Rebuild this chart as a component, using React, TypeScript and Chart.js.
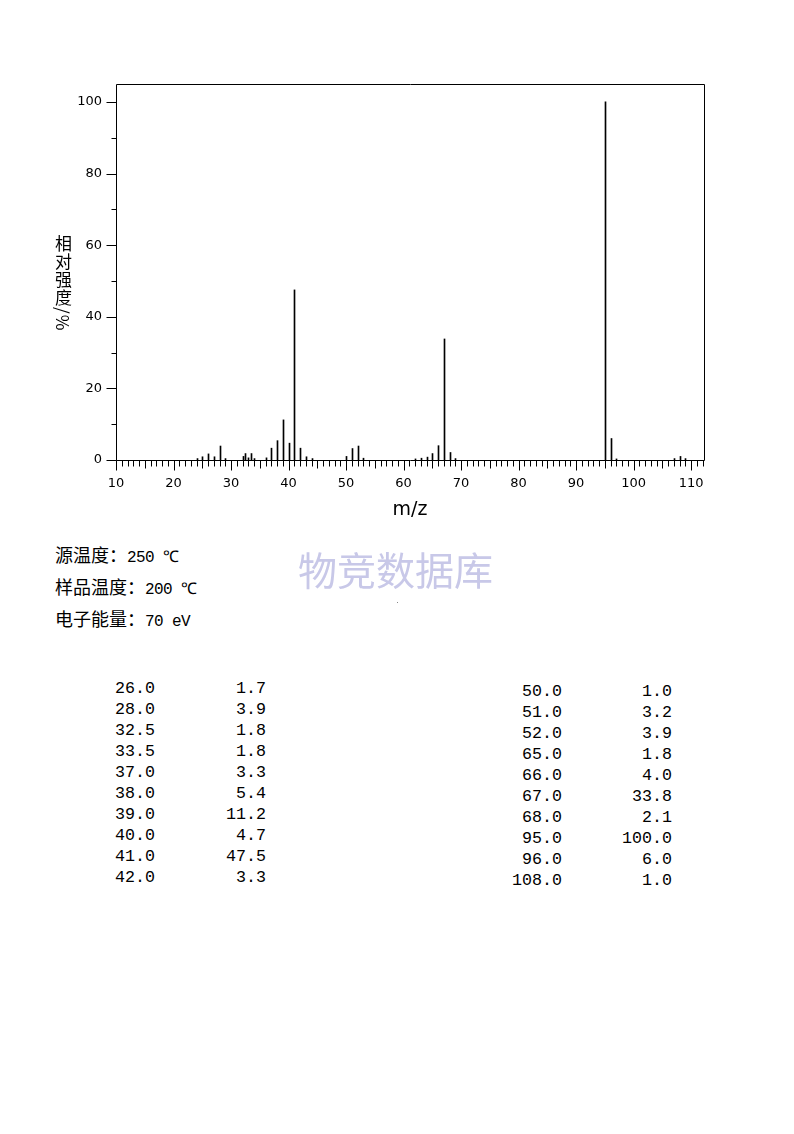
import React, { useEffect, useRef } from 'react';
import { Chart, registerables } from 'chart.js';

Chart.register(...registerables);

// m/z values of the peaks and their relative intensities (%)
const MZ = [24, 25, 26, 27, 28, 29, 32, 32.5, 33, 33.5, 34, 36, 37, 38, 39, 40, 41, 42, 43, 44, 50, 51, 52, 53, 62, 63, 64, 65, 66, 67, 68, 69, 95, 96, 97, 107, 108, 109];
const INTENSITY = [0.4, 0.9, 1.7, 0.9, 3.9, 0.4, 1.0, 1.8, 0.6, 1.8, 0.4, 0.6, 3.3, 5.4, 11.2, 4.7, 47.5, 3.3, 0.9, 0.4, 1.0, 3.2, 3.9, 0.5, 0.3, 0.5, 0.8, 1.8, 4.0, 33.8, 2.1, 0.4, 100, 6.0, 0.3, 0.4, 1.0, 0.4];

const X_TICKS = [10, 20, 30, 40, 50, 60, 70, 80, 90, 100, 110];
const Y_TICKS = [0, 20, 40, 60, 80, 100];
const X_MIN = 10;
const X_MAX = 112.25;
const Y_MIN = 0;
const Y_MAX = 105;

const X_TITLE = 'm/z';
const Y_TITLE = '相对强度/%';

const INFO_LABELS = ['源温度：', '样品温度：', '电子能量：'];
const INFO_VALUES = ['250 ℃', '200 ℃', '70 eV'];
const WATERMARK = '物竞数据库';

const TABLE_LEFT_MZ = ['26.0', '28.0', '32.5', '33.5', '37.0', '38.0', '39.0', '40.0', '41.0', '42.0'];
const TABLE_LEFT_INT = ['1.7', '3.9', '1.8', '1.8', '3.3', '5.4', '11.2', '4.7', '47.5', '3.3'];
const TABLE_RIGHT_MZ = ['50.0', '51.0', '52.0', '65.0', '66.0', '67.0', '68.0', '95.0', '96.0', '108.0'];
const TABLE_RIGHT_INT = ['1.0', '3.2', '3.9', '1.8', '4.0', '33.8', '2.1', '100.0', '6.0', '1.0'];

const frameAndTicks = {
  id: 'frameAndTicks',
  afterDatasetsUpdate(chart: any) {
    const meta = chart.getDatasetMeta(0);
    meta.data.forEach((el: any) => {
      el.x = Math.round(el.x) + 0.5;
    });
  },
  afterDraw(chart: any) {
    const { ctx, chartArea: a, scales } = chart;
    const x = scales.x;
    const y = scales.y;
    ctx.save();
    ctx.strokeStyle = '#000';
    ctx.lineWidth = 1;
    ctx.beginPath();
    const L = Math.round(a.left) + 0.5;
    const T = Math.round(a.top) + 0.5;
    const R = Math.round(a.right) + 0.5;
    const B = Math.round(a.bottom) + 0.5;
    ctx.moveTo(L, T);
    ctx.lineTo(R, T);
    ctx.lineTo(R, B);
    ctx.lineTo(L, B);
    ctx.closePath();
    for (let v = Math.ceil(x.min); v <= x.max; v++) {
      const px = Math.round(x.getPixelForValue(v)) + 0.5;
      const len = v % 10 === 0 ? 10 : v % 5 === 0 ? 8 : 6;
      ctx.moveTo(px, B);
      ctx.lineTo(px, B + len);
    }
    for (let v = 0; v <= 100; v += 10) {
      const py = Math.round(y.getPixelForValue(v)) + 0.5;
      const len = v % 20 === 0 ? 10 : 5;
      ctx.moveTo(L - len, py);
      ctx.lineTo(L, py);
    }
    ctx.stroke();
    ctx.restore();
  },
};

const mono = '"Liberation Mono", "DejaVu Sans Mono", monospace';
const cjk = '"Noto Sans CJK SC", sans-serif';

export default function App() {
  const ref = useRef<HTMLCanvasElement | null>(null);

  useEffect(() => {
    if (!ref.current) return;
    const chart = new Chart(ref.current, {
      type: 'bar',
      data: {
        datasets: [
          {
            data: MZ.map((m, i) => ({ x: m, y: INTENSITY[i] })),
            backgroundColor: '#000',
            borderWidth: 0,
            barThickness: 1,
            grouped: false,
          } as any,
        ],
      },
      options: {
        animation: false,
        responsive: false,
        events: [],
        layout: { padding: { left: 0, top: 84, right: 90, bottom: 40 } },
        plugins: { legend: { display: false }, tooltip: { enabled: false } },
        scales: {
          x: {
            type: 'linear',
            offset: false,
            min: X_MIN,
            max: X_MAX,
            grid: { display: false, drawTicks: false, offset: false },
            border: { display: false },
            ticks: { color: '#000', font: { family: 'DejaVu Sans', size: 13 }, padding: 15.5, maxRotation: 0 },
            afterBuildTicks: (s: any) => {
              s.ticks = X_TICKS.map((v) => ({ value: v }));
            },
            afterFit: (s: any) => {
              s.height = 40;
            },
          },
          y: {
            type: 'linear',
            min: Y_MIN,
            max: Y_MAX,
            grid: { display: false, drawTicks: false },
            border: { display: false },
            ticks: { color: '#000', font: { family: 'DejaVu Sans', size: 13 }, padding: 14 },
            afterBuildTicks: (s: any) => {
              s.ticks = Y_TICKS.map((v) => ({ value: v }));
            },
            afterFit: (s: any) => {
              s.width = 116;
            },
          },
        },
      } as any,
      plugins: [frameAndTicks],
    });
    return () => chart.destroy();
  }, []);

  const abs = (o: React.CSSProperties): React.CSSProperties => ({ position: 'absolute', margin: 0, ...o });

  return (
    <div style={abs({ left: 0, top: 0, width: 794, height: 1134, background: '#fff' })}>
      <canvas ref={ref} width={794} height={540} style={abs({ left: 0, top: 0, width: 794, height: 540 })} />
      <div
        style={abs({
          left: 55,
          top: 235,
          writingMode: 'vertical-rl',
          fontFamily: cjk,
          fontSize: 17,
          lineHeight: '17px',
          letterSpacing: '1px',
          color: '#000',
        })}
      >
        {Y_TITLE}
      </div>
      <div
        style={abs({
          left: 310,
          top: 497,
          width: 200,
          textAlign: 'center',
          fontFamily: 'DejaVu Sans',
          fontSize: 19,
          lineHeight: '22px',
          color: '#000',
        })}
      >
        {X_TITLE}
      </div>
      {INFO_LABELS.map((lab, i) => (
        <div
          key={lab}
          style={abs({ left: 55, top: 544 + i * 32, lineHeight: '20px', whiteSpace: 'pre', color: '#000' })}
        >
          <span style={{ fontFamily: cjk, fontSize: 18 }}>{lab}</span>
          <span style={{ fontFamily: mono, fontSize: 16, letterSpacing: '-0.6px' }}>{INFO_VALUES[i]}</span>
        </div>
      ))}
      <div
        style={abs({
          left: 298,
          top: 548,
          fontFamily: cjk,
          fontSize: 39,
          lineHeight: '40px',
          color: '#c8c8e8',
          whiteSpace: 'pre',
        })}
      >
        {WATERMARK}
      </div>
      <div style={abs({ left: 397, top: 602, width: 1, height: 1, background: '#888' })} />
      {TABLE_LEFT_MZ.map((m, i) => (
        <React.Fragment key={'l' + i}>
          <div style={abs({ left: 55, width: 100, top: 677.5 + i * 21, textAlign: 'right', fontFamily: mono, fontSize: 16.67, lineHeight: '21px', color: '#000' })}>{m}</div>
          <div style={abs({ left: 166, width: 100, top: 677.5 + i * 21, textAlign: 'right', fontFamily: mono, fontSize: 16.67, lineHeight: '21px', color: '#000' })}>{TABLE_LEFT_INT[i]}</div>
        </React.Fragment>
      ))}
      {TABLE_RIGHT_MZ.map((m, i) => (
        <React.Fragment key={'r' + i}>
          <div style={abs({ left: 462, width: 100, top: 680.5 + i * 21, textAlign: 'right', fontFamily: mono, fontSize: 16.67, lineHeight: '21px', color: '#000' })}>{m}</div>
          <div style={abs({ left: 572, width: 100, top: 680.5 + i * 21, textAlign: 'right', fontFamily: mono, fontSize: 16.67, lineHeight: '21px', color: '#000' })}>{TABLE_RIGHT_INT[i]}</div>
        </React.Fragment>
      ))}
    </div>
  );
}
